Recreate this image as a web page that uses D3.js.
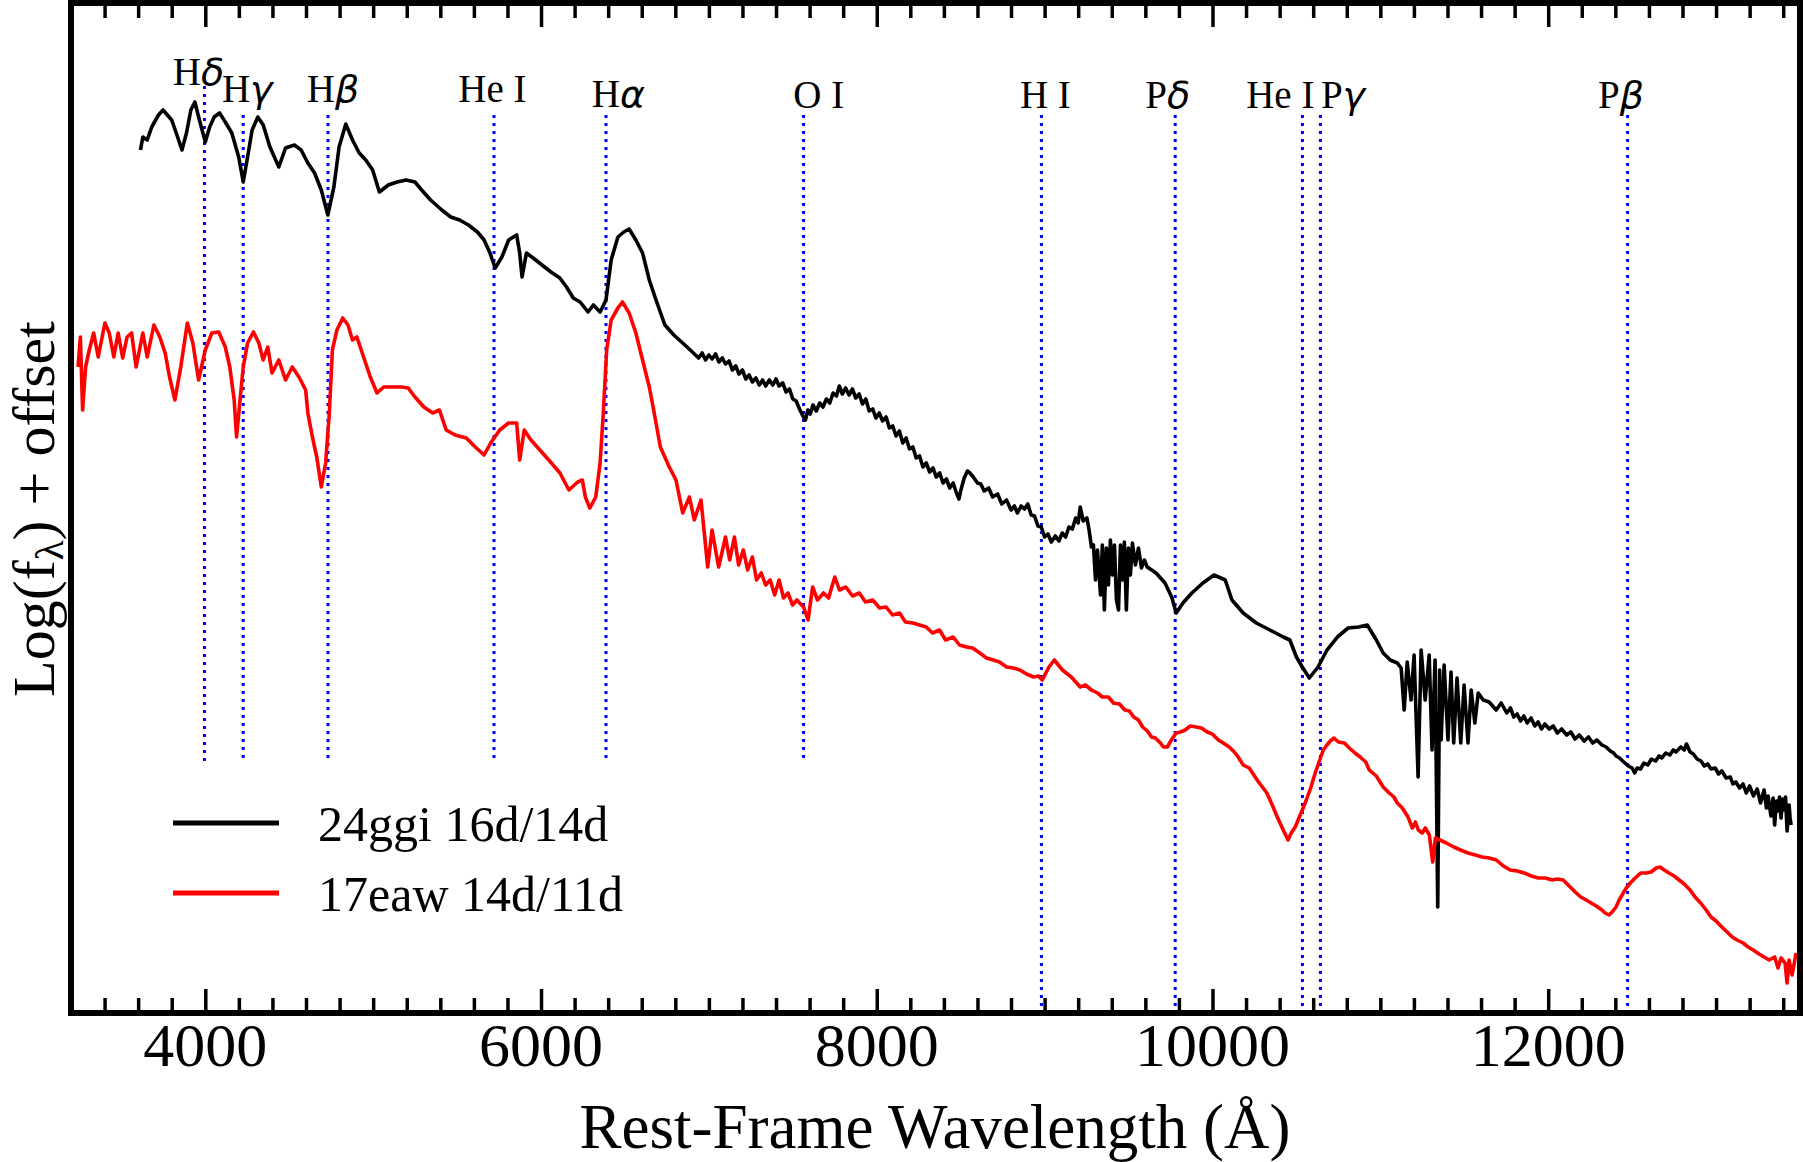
<!DOCTYPE html>
<html>
<head>
<meta charset="utf-8">
<script src="https://cdn.jsdelivr.net/npm/d3@7"></script>
<style>
  html, body { margin: 0; padding: 0; background: #fff; }
  svg { display: block; }
  text { font-family: "Liberation Serif", "Times New Roman", serif; fill: #000; }
</style>
</head>
<body>
<svg id="chart" width="1803" height="1162"></svg>
<script>
// ---------------- DATA ----------------
const wave_24ggi = [3614,3628,3654,3681,3721,3748,3774,3800,3827,3861,
3888,3914,3938,3965,4000,4026,4053,4085,4119,4158,
4199,4226,4252,4279,4313,4345,4385,4438,4478,4531,
4571,4611,4651,4691,4730,4766,4797,4837,4877,4917,
4956,4997,5037,5090,5143,5196,5249,5289,5342,5409,
5462,5515,5568,5621,5661,5696,5727,5767,5807,5855,
5873,5887,5913,5953,6006,6059,6112,6152,6192,6233,
6280,6312,6352,6387,6418,6458,6493,6525,6565,6605,
6645,6685,6738,6791,6870,
6939,6960,6980,7000,7019,7040,7060,7080,7099,7120,
7140,7160,7179,7200,7220,7240,7259,7280,7300,7320,
7338,7360,7380,7400,7418,7440,7460,7480,7500,7520,
7540,7560,7575,7590,7604,7620,7640,7660,7680,7700,
7720,7740,7760,7777,7795,7815,7835,7855,7875,7895,
7915,7935,7955,7976,7995,8015,8035,8056,8075,8095,
8115,8135,8155,8175,8195,8215,8235,8255,8275,8295,
8315,8335,8355,8375,8395,8415,8435,8455,8475,8490,
8500,8521,8540,8555,8575,8600,8620,8640,8667,8690,
8720,8745,8773,8800,8820,8838,8860,8880,8900,8920,
8940,8960,8980,9000,9020,9040,9064,9085,9105,9125,
9145,9165,9185,9200,9212,9230,9252,9265,9279,
9291,9303,9315,9333,9344,9356,9368,9380,9392,9404,9416,9428,9440,9452,9463,9475,9487,9499,9511,9523,9541,9559,9577,9594,
9611,9664,9717,9757,9784,9824,9877,9943,10009,10076,10116,10183,10261,10342,10422,10461,10500,10535,10577,10629,10682,10744,10808,10870,10922,10976,11017,11059,11101,
11124,11142,11160,11183,11201,11225,11243,11267,11291,11308,11326,
11342,11353,11362,11380,11403,11421,11437,11457,11479,11499,11522,11541,
11563,11583,11613,11648,11690,11720,
11753,11775,11795,11815,11835,11855,11875,11898,11920,11940,
11960,11980,12006,12030,12055,12080,12110,12135,12160,12185,
12214,12240,12265,12290,12320,12345,12370,12390,12404,12425,
12450,12477,12500,12515,12530,12550,12570,12593,12615,12640,
12660,12677,12700,12725,12745,12761,12790,12810,12824,12845,
12865,12887,12910,12930,12950,12970,12995,13015,13034,13060,
13085,13100,13118,13140,13161,
13180,13200,13223,13245,13265,13286,13300,13310,13327,13340,13349,
13360,13369,13378,13387,13396,13405,13414,13423,13435,13441,13447];

const flux_24ggi = [8.63,8.76,8.73,8.86,8.98,9.03,8.98,8.93,8.80,8.63,
8.80,9.03,9.11,8.93,8.71,8.86,8.96,9.00,8.91,8.80,
8.56,8.31,8.56,8.83,8.96,8.88,8.66,8.46,8.65,8.68,
8.63,8.50,8.40,8.23,7.98,8.26,8.66,8.89,8.73,8.60,
8.53,8.43,8.21,8.28,8.31,8.33,8.31,8.23,8.13,8.03,
7.96,7.93,7.88,7.81,7.73,7.60,7.45,7.56,7.73,7.78,
7.60,7.36,7.60,7.55,7.48,7.41,7.35,7.26,7.15,7.11,
7.01,7.08,7.01,7.13,7.53,7.76,7.81,7.84,7.73,7.60,
7.33,7.13,6.88,6.78,6.66,
6.55,6.60,6.53,6.58,6.54,6.59,6.51,6.55,6.49,6.52,
6.43,6.47,6.39,6.43,6.34,6.38,6.31,6.35,6.28,6.33,
6.27,6.33,6.28,6.34,6.27,6.30,6.21,6.24,6.14,6.12,
6.04,5.97,5.93,6.03,5.99,6.08,6.02,6.10,6.06,6.14,
6.10,6.20,6.17,6.27,6.19,6.25,6.18,6.24,6.15,6.19,
6.09,6.14,6.02,6.04,5.95,6.00,5.92,5.96,5.85,5.87,
5.77,5.82,5.70,5.75,5.64,5.66,5.55,5.57,5.46,5.50,
5.41,5.45,5.36,5.40,5.30,5.34,5.25,5.30,5.20,5.14,
5.22,5.35,5.42,5.40,5.36,5.30,5.29,5.22,5.25,5.16,
5.19,5.09,5.13,5.03,5.07,5.00,5.07,5.04,5.09,4.98,
4.97,4.87,4.86,4.76,4.79,4.71,4.77,4.72,4.80,4.76,
4.86,4.84,4.95,4.90,5.06,4.92,4.95,4.83,4.66,
4.68,4.33,4.63,4.18,4.68,4.03,4.65,4.28,4.73,4.38,4.68,4.13,4.03,4.68,4.33,4.71,4.03,4.65,4.38,4.70,4.48,4.65,4.45,4.53,
4.46,4.40,4.30,4.16,4.00,4.10,4.20,4.30,4.38,4.33,4.13,4.00,3.90,3.83,3.76,3.73,3.56,3.46,3.35,3.46,3.63,3.76,3.85,3.86,3.88,3.73,3.60,3.53,3.50,
3.45,3.03,3.51,3.13,3.58,2.36,3.63,3.13,3.58,2.63,3.53,
1.06,3.43,2.73,3.48,2.73,3.41,2.70,3.35,2.70,3.28,2.70,3.23,
2.90,3.20,3.13,3.11,3.03,3.10,
3.00,3.05,2.96,2.99,2.92,2.97,2.90,2.95,2.87,2.91,
2.84,2.89,2.84,2.87,2.80,2.84,2.78,2.81,2.74,2.78,
2.72,2.76,2.70,2.73,2.68,2.66,2.62,2.60,2.57,2.55,
2.51,2.47,2.45,2.40,2.45,2.44,2.50,2.48,2.54,2.52,
2.57,2.55,2.60,2.58,2.63,2.61,2.66,2.63,2.69,2.61,
2.59,2.54,2.52,2.47,2.49,2.44,2.45,2.39,2.42,2.35,
2.36,2.29,2.31,2.25,2.29,
2.20,2.27,2.17,2.24,2.10,2.23,2.05,2.17,1.97,2.15,1.88,
2.12,2.02,2.16,1.95,2.14,2.03,2.16,1.82,2.08,1.95,1.88];

const wave_17eaw = [3242,3256,3269,3287,3309,3335,3362,3402,3428,3455,
3481,3508,3534,3561,3588,3628,3654,3694,3729,3761,
3787,3819,3854,3893,3926,3960,4000,4039,4080,4119,
4146,4172,4186,4226,4252,4287,4319,4345,4372,4398,
4438,4478,4518,4558,4598,4611,4638,4664,4691,4717,
4739,4757,4784,4819,4850,4877,4903,4943,4983,5023,
5063,5116,5169,5209,5249,5302,5355,5395,5435,5488,
5555,5608,5661,5700,5754,5807,5855,5873,5900,5940,
5993,6046,6113,6166,6219,6246,6264,6291,6326,6352,
6371,6391,6418,6458,6485,6525,6565,6605,6645,6671,
6685,6711,6764,6804,6844,6884,6913,6953,6993,7019,
7058,7099,7124,7152,7177,7205,7231,7259,7284,7312,
7338,7365,7392,7418,7445,7471,7499,7524,7564,7591,
7618,7647,7683,7713,7750,7778,7816,7856,7896,7933,
7976,8017,8056,8094,8136,8171,8215,8255,8295,8332,
8374,8410,8455,8493,8535,8571,8614,8654,8694,8731,
8773,8814,8853,8892,8934,8963,8986,9026,9058,9106,
9159,9212,9243,9279,9315,9344,9380,9410,9446,9478,
9505,9531,9559,9584,9612,9637,9660,9690,9708,9731,
9755,9784,9809,9837,9868,9903,9934,9969,9999,10035,
10064,10100,10130,10153,10183,10219,10266,10324,10356,10386,
10416,10450,10469,10493,10535,10559,10587,10612,10639,10660,
10682,10702,10724,10750,10786,10815,10849,10880,10913,10934,
10976,11017,11053,11081,11101,11131,11165,11191,11209,11226,
11250,11268,11292,11312,11328,11355,11393,11438,11477,11522,
11566,11606,11649,11691,11733,11774,11816,11857,11899,11941,
11982,12024,12054,12089,12131,12161,12194,12226,12256,12286,
12320,12339,12362,12381,12404,12423,12447,12465,12489,12518,
12551,12584,12613,12643,12667,12691,12719,12750,12780,12810,
12845,12875,12908,12941,12970,13000,13034,13066,13096,13125,
13161,13191,13221,13256,13286,13316,13349,13369,13387,13411,
13423,13435,13453,13477];

const flux_17eaw = [6.46,6.76,6.03,6.46,6.63,6.80,6.56,6.90,6.80,6.56,
6.80,6.55,6.76,6.80,6.46,6.80,6.56,6.88,6.76,6.60,
6.36,6.13,6.46,6.90,6.70,6.33,6.63,6.80,6.81,6.66,
6.46,6.13,5.76,6.46,6.70,6.81,6.70,6.53,6.66,6.40,
6.53,6.33,6.46,6.36,6.23,6.00,5.76,5.56,5.26,5.50,
6.00,6.63,6.83,6.95,6.88,6.73,6.76,6.56,6.36,6.20,
6.26,6.26,6.26,6.25,6.16,6.06,6.00,6.03,5.83,5.78,
5.75,5.66,5.58,5.70,5.83,5.90,5.90,5.53,5.83,5.73,
5.63,5.53,5.40,5.23,5.31,5.33,5.16,5.05,5.16,5.50,
6.00,6.63,6.93,7.05,7.11,7.00,6.80,6.53,6.26,6.03,
5.90,5.66,5.46,5.33,5.00,5.16,4.93,5.13,4.46,4.83,
4.46,4.76,4.53,4.76,4.48,4.63,4.43,4.56,4.33,4.40,
4.28,4.33,4.18,4.33,4.15,4.20,4.08,4.13,4.06,3.93,
4.26,4.13,4.20,4.15,4.36,4.23,4.26,4.17,4.20,4.11,
4.13,4.05,4.06,3.98,4.00,3.91,3.90,3.88,3.86,3.80,
3.83,3.73,3.76,3.68,3.66,3.65,3.60,3.55,3.53,3.51,
3.46,3.45,3.43,3.39,3.36,3.37,3.33,3.46,3.53,3.43,
3.36,3.26,3.28,3.23,3.20,3.16,3.16,3.10,3.09,3.03,
3.02,2.96,2.93,2.86,2.82,2.76,2.75,2.70,2.66,2.66,
2.73,2.80,2.81,2.83,2.87,2.86,2.85,2.81,2.79,2.73,
2.70,2.66,2.61,2.56,2.48,2.45,2.33,2.20,2.08,1.96,
1.85,1.73,1.80,1.86,2.03,2.13,2.26,2.40,2.53,2.63,
2.68,2.72,2.75,2.71,2.70,2.65,2.60,2.56,2.51,2.43,
2.37,2.26,2.20,2.16,2.10,2.05,1.96,1.85,1.91,1.83,
1.80,1.85,1.78,1.51,1.75,1.73,1.70,1.66,1.63,1.60,
1.58,1.56,1.55,1.53,1.47,1.43,1.42,1.40,1.37,1.35,
1.35,1.33,1.34,1.33,1.26,1.21,1.16,1.13,1.10,1.07,
1.03,1.00,0.98,1.01,1.06,1.13,1.20,1.25,1.30,1.35,
1.40,1.40,1.41,1.45,1.46,1.43,1.40,1.37,1.33,1.29,
1.23,1.16,1.10,1.03,0.96,0.92,0.86,0.81,0.76,0.73,
0.70,0.66,0.63,0.59,0.56,0.53,0.56,0.45,0.55,0.50,
0.30,0.53,0.38,0.60];

// spectral line identifications
const lineNames   = ["Hδ","Hγ","Hβ","He I","Hα","O I","H I","Pδ","He I","Pγ","Pβ"];
const lineWaves   = [3995, 4226, 4731, 5720, 6387, 7564, 8981, 9778, 10536, 10643, 12473];
const lineTops    = [9.27, 8.98, 8.98, 8.98, 8.98, 8.98, 8.98, 8.98, 8.98, 8.98, 8.98];
const lineBottoms = [2.51, 2.51, 2.51, 2.51, 2.51, 2.51, 0, 0, 0, 0, 0];
const labelWaves  = [3806, 4099, 4605, 5507, 6302, 7503, 8853, 9600, 10201, 10646, 12297];
const labelLevels = [9.28, 9.11, 9.11, 9.11, 9.06, 9.05, 9.05, 9.05, 9.05, 9.05, 9.05];

const seriesNames  = ["24ggi 16d/14d", "17eaw 14d/11d"];
const seriesColors = ["#000000", "#ff0000"];

const majorTicks = [4000, 6000, 8000, 10000, 12000];
const minorTicks = d3.range(3400, 13500, 200);

// ---------------- LAYOUT ----------------
const L = 71, R = 1800, T = 3, B = 1013;
const svg = d3.select("#chart");
svg.append("rect").attr("width", 1803).attr("height", 1162).attr("fill", "#fff");

const x = d3.scaleLinear().domain([3200, 13500]).range([L, R]);
const y = d3.scaleLinear().domain([0, 10.1]).range([B, T]);

svg.append("defs").append("clipPath").attr("id", "plotclip")
  .append("rect").attr("x", L).attr("y", T).attr("width", R - L).attr("height", B - T);

const plot = svg.append("g").attr("clip-path", "url(#plotclip)");

// vertical dotted line markers
lineWaves.forEach((w, i) => {
  plot.append("line")
    .attr("x1", x(w)).attr("x2", x(w))
    .attr("y1", y(lineTops[i])).attr("y2", y(lineBottoms[i]))
    .attr("stroke", "#0000ff").attr("stroke-width", 3)
    .attr("stroke-dasharray", "3,5");
});

// spectra
const lineGen = d3.line().x(d => x(d[0])).y(d => y(d[1]));
const spectra = [d3.zip(wave_24ggi, flux_24ggi), d3.zip(wave_17eaw, flux_17eaw)];
spectra.forEach((s, i) => {
  plot.append("path").datum(s)
    .attr("d", lineGen)
    .attr("fill", "none")
    .attr("stroke", seriesColors[i])
    .attr("stroke-width", 3.6)
    .attr("stroke-linejoin", "round");
});

// line labels
const greek = /[αβγδ]$/;
lineNames.forEach((name, i) => {
  const t = svg.append("text")
    .attr("x", x(labelWaves[i])).attr("y", y(labelLevels[i]))
    .attr("font-size", 39);
  if (greek.test(name)) {
    t.append("tspan").text(name.slice(0, -1));
    t.append("tspan").attr("font-style", "italic")
      .attr("font-family", "'DejaVu Sans', sans-serif").attr("font-size", 38)
      .text(name.slice(-1));
  } else {
    t.text(name);
  }
});

// axes: ticks inward on top and bottom
function drawTicks(vals, len) {
  const gb = svg.append("g").attr("transform", `translate(0,${B})`)
    .call(d3.axisBottom(x).tickValues(vals).tickSize(-len).tickFormat(""));
  const gt = svg.append("g").attr("transform", `translate(0,${T})`)
    .call(d3.axisTop(x).tickValues(vals).tickSize(-len).tickFormat(""));
  [gb, gt].forEach(g => {
    g.select(".domain").remove();
    g.selectAll("line").attr("stroke", "#000").attr("stroke-width", 3.5);
  });
}
drawTicks(minorTicks.filter(v => !majorTicks.includes(v)), 15);
drawTicks(majorTicks, 24);

svg.append("g").selectAll("text").data(majorTicks).join("text")
  .attr("x", d => x(d)).attr("y", 1066)
  .attr("text-anchor", "middle").attr("font-size", 62)
  .text(d => d);

// frame
svg.append("rect").attr("x", L).attr("y", T).attr("width", R - L).attr("height", B - T)
  .attr("fill", "none").attr("stroke", "#000").attr("stroke-width", 6);

// axis titles
svg.append("text").attr("x", 935).attr("y", 1148).attr("text-anchor", "middle")
  .attr("font-size", 63).text("Rest-Frame Wavelength (Å)");

const yl = svg.append("text").attr("transform", "translate(54,509) rotate(-90)")
  .attr("text-anchor", "middle").attr("font-size", 60);
yl.append("tspan").text("Log(f");
yl.append("tspan").attr("font-size", 41).attr("dy", 9).text("λ");
yl.append("tspan").attr("dy", -9).text(") + offset");

// legend
seriesNames.forEach((n, i) => {
  const yy = 823 + i * 70;
  svg.append("line").attr("x1", 173).attr("x2", 279).attr("y1", yy).attr("y2", yy)
    .attr("stroke", seriesColors[i]).attr("stroke-width", 5);
  svg.append("text").attr("x", 318).attr("y", yy + 18).attr("font-size", 50).text(n);
});
</script>
</body>
</html>
